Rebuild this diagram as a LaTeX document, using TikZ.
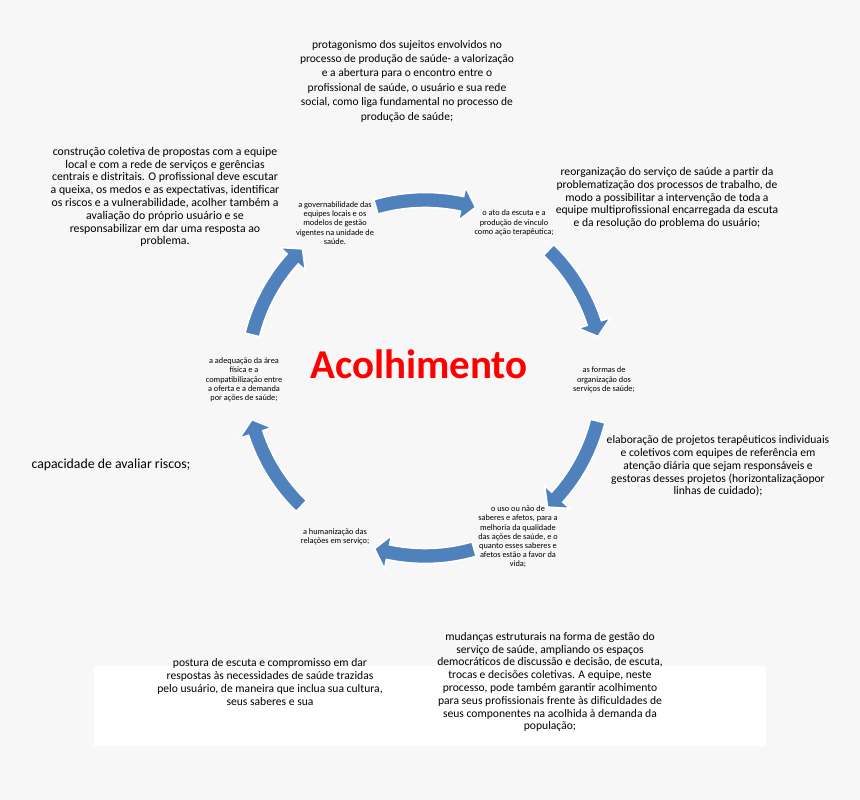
\documentclass[tikz,border=0pt]{standalone}
\usepackage{fontspec}
\setmainfont{Carlito}
\usetikzlibrary{calc}
\definecolor{bg}{HTML}{F7F7F7}
\definecolor{arrowblue}{HTML}{4F81BD}
\definecolor{titlered}{HTML}{FF0000}
\begin{document}
\begin{tikzpicture}[x=1bp,y=1bp,
  big/.style={align=center, font=\fontsize{11.6bp}{12.8bp}\selectfont, text=black, inner sep=0pt},
  small/.style={align=center, font=\fontsize{8.3bp}{9.2bp}\selectfont, text=black, inner sep=0pt},
  cyc/.style={fill=arrowblue, draw=white, line width=1.6bp, line join=miter}]
\fill[bg] (0,0) rectangle (860,800);
\useasboundingbox (0,0) rectangle (860,800);
\fill[white] (94,54) rectangle (766,134);
\coordinate (C) at (425,422);
\foreach \t in {90,30,-30,-90,-150,150}{
  \draw[cyc] ($(C)+({\t+16}:185.5)$) arc[start angle={\t+16}, end angle={\t-12}, radius=185.5]
    -- ($(C)+({\t-12}:195)$) -- ($(C)+({\t-16.5}:178)$) -- ($(C)+({\t-12}:161)$)
    -- ($(C)+({\t-12}:170.5)$) arc[start angle={\t-12}, end angle={\t+16}, radius=170.5] -- cycle;
}
\node[font=\fontsize{41bp}{48bp}\selectfont\bfseries, text=titlered, inner sep=0pt] (title) at (419,436) {Acolhimento};

\node[big, font=\fontsize{11.5bp}{14.4bp}\selectfont] (ttop) at (407,719) {protagonismo dos sujeitos envolvidos no\\processo de produção de saúde- a valorização\\e a abertura para o encontro entre o\\profissional de saúde, o usuário e sua rede\\social, como liga fundamental no processo de\\produção de saúde;};
\node[big, font=\fontsize{11.8bp}{12.8bp}\selectfont] (tleft) at (165,603) {construção coletiva de propostas com a equipe\\local e com a rede de serviços e gerências\\centrais e distritais. O profissional deve escutar\\a queixa, os medos e as expectativas, identificar\\os riscos e a vulnerabilidade, acolher também a\\avaliação do próprio usuário e se\\responsabilizar em dar uma resposta ao\\problema.};
\node[big] (tright) at (667,602) {reorganização do serviço de saúde a partir da\\problematização dos processos de trabalho, de\\modo a possibilitar a intervenção de toda a\\equipe multiprofissional encarregada da escuta\\e da resolução do problema do usuário;};
\node[big] (trdown) at (718,334) {elaboração de projetos terapêuticos individuais\\e coletivos com equipes de referência em\\atenção diária que sejam responsáveis e\\gestoras desses projetos (horizontalizaçãopor\\linhas de cuidado);};
\node[big, font=\fontsize{13.8bp}{15bp}\selectfont] (triscos) at (111,335) {capacidade de avaliar riscos;};
\node[big] (tbl) at (270,118) {postura de escuta e compromisso em dar\\respostas às necessidades de saúde trazidas\\pelo usuário, de maneira que inclua sua cultura,\\seus saberes e sua};
\node[big] (tbr) at (550,118) {mudanças estruturais na forma de gestão do\\serviço de saúde, ampliando os espaços\\democráticos de discussão e decisão, de escuta,\\trocas e decisões coletivas. A equipe, neste\\processo, pode também garantir acolhimento\\para seus profissionais frente às dificuldades de\\seus componentes na acolhida à demanda da\\população;};

\node[small] (gov) at (335,577) {a governabilidade das\\equipes locais e os\\modelos de gestão\\vigentes na unidade de\\saúde.};
\node[small] (ato) at (514,577) {o ato da escuta e a\\produção de vinculo\\como ação terapêutica;};
\node[small] (formas) at (604,420) {as formas de\\organização dos\\serviços de saúde;};
\node[small] (uso) at (518,263) {o uso ou não de\\saberes e afetos, para a\\melhoria da qualidade\\das ações de saúde, e o\\quanto esses saberes e\\afetos estão a favor da\\vida;};
\node[small] (hum) at (335,263) {a humanização das\\relações em serviço;};
\node[small] (adeq) at (244,420) {a adequação da área\\física e a\\compatibilização entre\\a oferta e a demanda\\por ações de saúde;};
\end{tikzpicture}
\end{document}
